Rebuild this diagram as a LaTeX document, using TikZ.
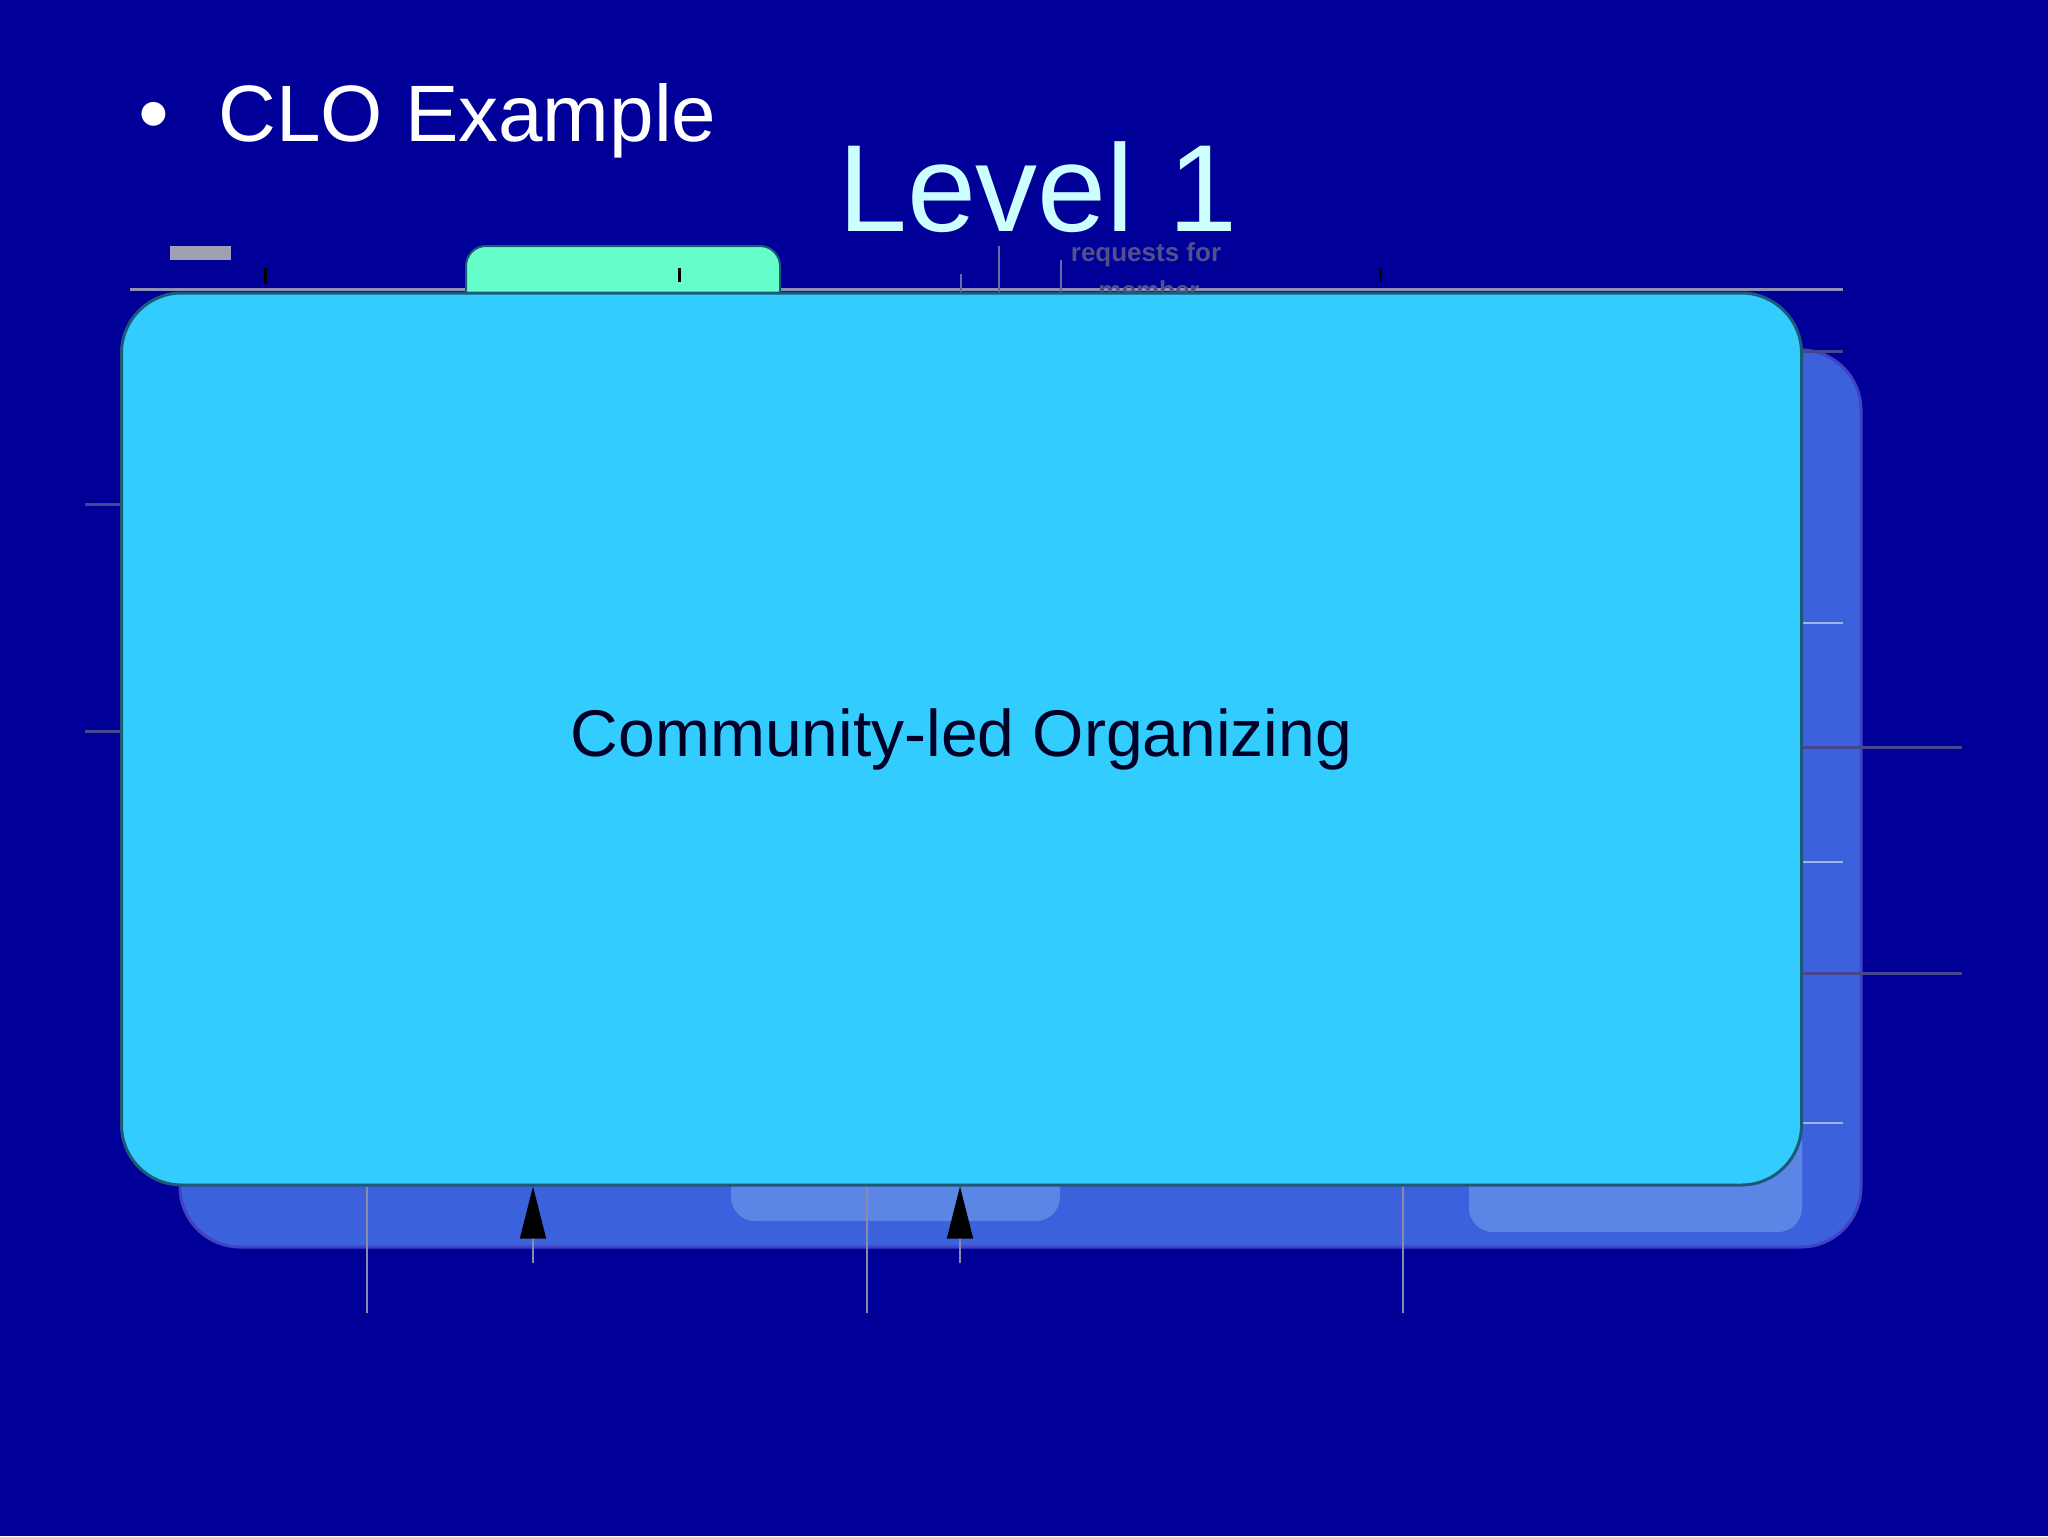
\documentclass[tikz,border=0pt]{standalone}
\usepackage{fontspec}
\setmainfont{Liberation Sans}
\usetikzlibrary{calc, arrows.meta, positioning}
\definecolor{slidebg}{HTML}{000099}
\definecolor{boxcyan}{HTML}{33CCFF}
\definecolor{boxedge}{HTML}{1D5A78}
\definecolor{backblue}{HTML}{3B62DC}
\definecolor{backedge}{HTML}{4141C4}
\definecolor{tabblue}{HTML}{5B86E6}
\definecolor{tabgreen}{HTML}{66FFCC}
\definecolor{titlecyan}{HTML}{CCFFFF}
\definecolor{wireblue}{HTML}{46468E}
\definecolor{wiregray}{HTML}{8A8AAA}
\definecolor{ghosttext}{HTML}{50508A}
\definecolor{tagray}{HTML}{A0A0B4}
\tikzstyle{mainbox}=[draw=boxedge, line width=1.5pt, fill=boxcyan, rounded corners=30pt,
minimum width=840pt, minimum height=446pt, inner sep=0pt, font=\fontsize{33}{40}\selectfont, text=black!85!blue]
\tikzstyle{backbox}=[draw=backedge, line width=1.5pt, fill=backblue, rounded corners=30pt]
\tikzstyle{lowtab}=[fill=tabblue, rounded corners=12pt]
\tikzstyle{toptab}=[draw=boxedge, line width=1pt, fill=tabgreen, rounded corners=10pt]
\tikzstyle{wire}=[wireblue, line width=1.5pt]
\tikzstyle{thinwire}=[wiregray, line width=0.75pt]
\tikzstyle{stub}=[black, line width=1.5pt]
\tikzstyle{ghost}=[text=ghosttext, inner sep=0pt, font=\bfseries\fontsize{13}{15}\selectfont]

\begin{document}
\begin{tikzpicture}[x=0.5pt, y=-0.5pt, >={Triangle[length=26pt, width=13pt, color=black]}]
      \useasboundingbox (0,0) rectangle (2048,1536);
      \fill[slidebg] (0,0) rectangle (2048,1536);
      % shapes lying under the main box
      \draw[backbox] (180,350) rectangle (1861,1247);
      \fill[lowtab] (731,1120) rectangle (1060,1221);
      \fill[lowtab] (1469,1120) rectangle (1802,1232);
      \draw[wire, draw=wireblue!60!white] (130,289) -- (1843,289);
      \draw[wire] (1802,351) -- (1843,351);
      \foreach \y in {623,862,1123}
        \draw[thinwire, draw=tabblue!60!white] (1802,\y) -- (1843,\y);
      \fill[tagray] (170,246) rectangle (231,260);
      \draw[toptab] (466,246) rectangle (780,320);
      \node[ghost] (req) at (1146,255) {requests for};
      \node[ghost] (mem) at (1149,290) {member};
      \draw[wire, draw=wireblue!80!white, line width=1pt] (961,274) -- (961,293);
      \draw[wire, draw=wireblue!80!white, line width=1pt] (999,246) -- (999,293);
      \draw[wire, draw=wireblue!80!white, line width=1pt] (1061,260) -- (1061,293);
      \draw[wire, draw=wireblue!80!white, line width=1pt] (989,293) arc (180:0:10);
      \draw[wire, draw=wireblue!80!white, line width=1pt] (1051,293) arc (180:0:10);
      \draw[stub] (265,268) -- (265,284);
      \draw[stub] (679,268) -- (679,282);
      \draw[stub] (1380,268) -- (1380,282);
      % main box
      \node[mainbox] (main) at (961.5,739) {Community-led Organizing};
      % controls and outputs
      \coordinate (ctla) at (85,504);
      \coordinate (ctlb) at (85,731);
      \coordinate (outa) at (1962,747);
      \coordinate (outb) at (1962,973);
      \draw[wire] (ctla) -- (ctla -| main.west);
      \draw[wire] (ctlb) -- (ctlb -| main.west);
      \draw[wire] (main.east |- outa) -- (outa);
      \draw[wire] (main.east |- outb) -- (outb);
      % mechanisms
      \foreach \x/\n in {367/a, 867/b, 1403/c} {
        \coordinate (mech\n) at (\x,1313);
        \draw[thinwire] (mech\n) -- (mech\n |- main.south);
      }
      % inputs
      \coordinate (ina) at (533,1263);
      \coordinate (inb) at (960,1263);
      \draw[thinwire, ->] (ina) -- (ina |- main.south);
      \draw[thinwire, ->] (inb) -- (inb |- main.south);
      % titles
      \node[text=white, inner sep=0pt, font=\fontsize{44}{48}\selectfont] (dot) at (154,123) {•};
      \node[text=white, inner sep=0pt, anchor=base west, font=\fontsize{40}{48}\selectfont] (clo) at (218,141) {CLO Example};
      \node[text=titlecyan, inner sep=0pt, anchor=base, font=\fontsize{62}{70}\selectfont] (lvl) at (1038,231) {Level 1};
  \end{tikzpicture}
\end{document}
